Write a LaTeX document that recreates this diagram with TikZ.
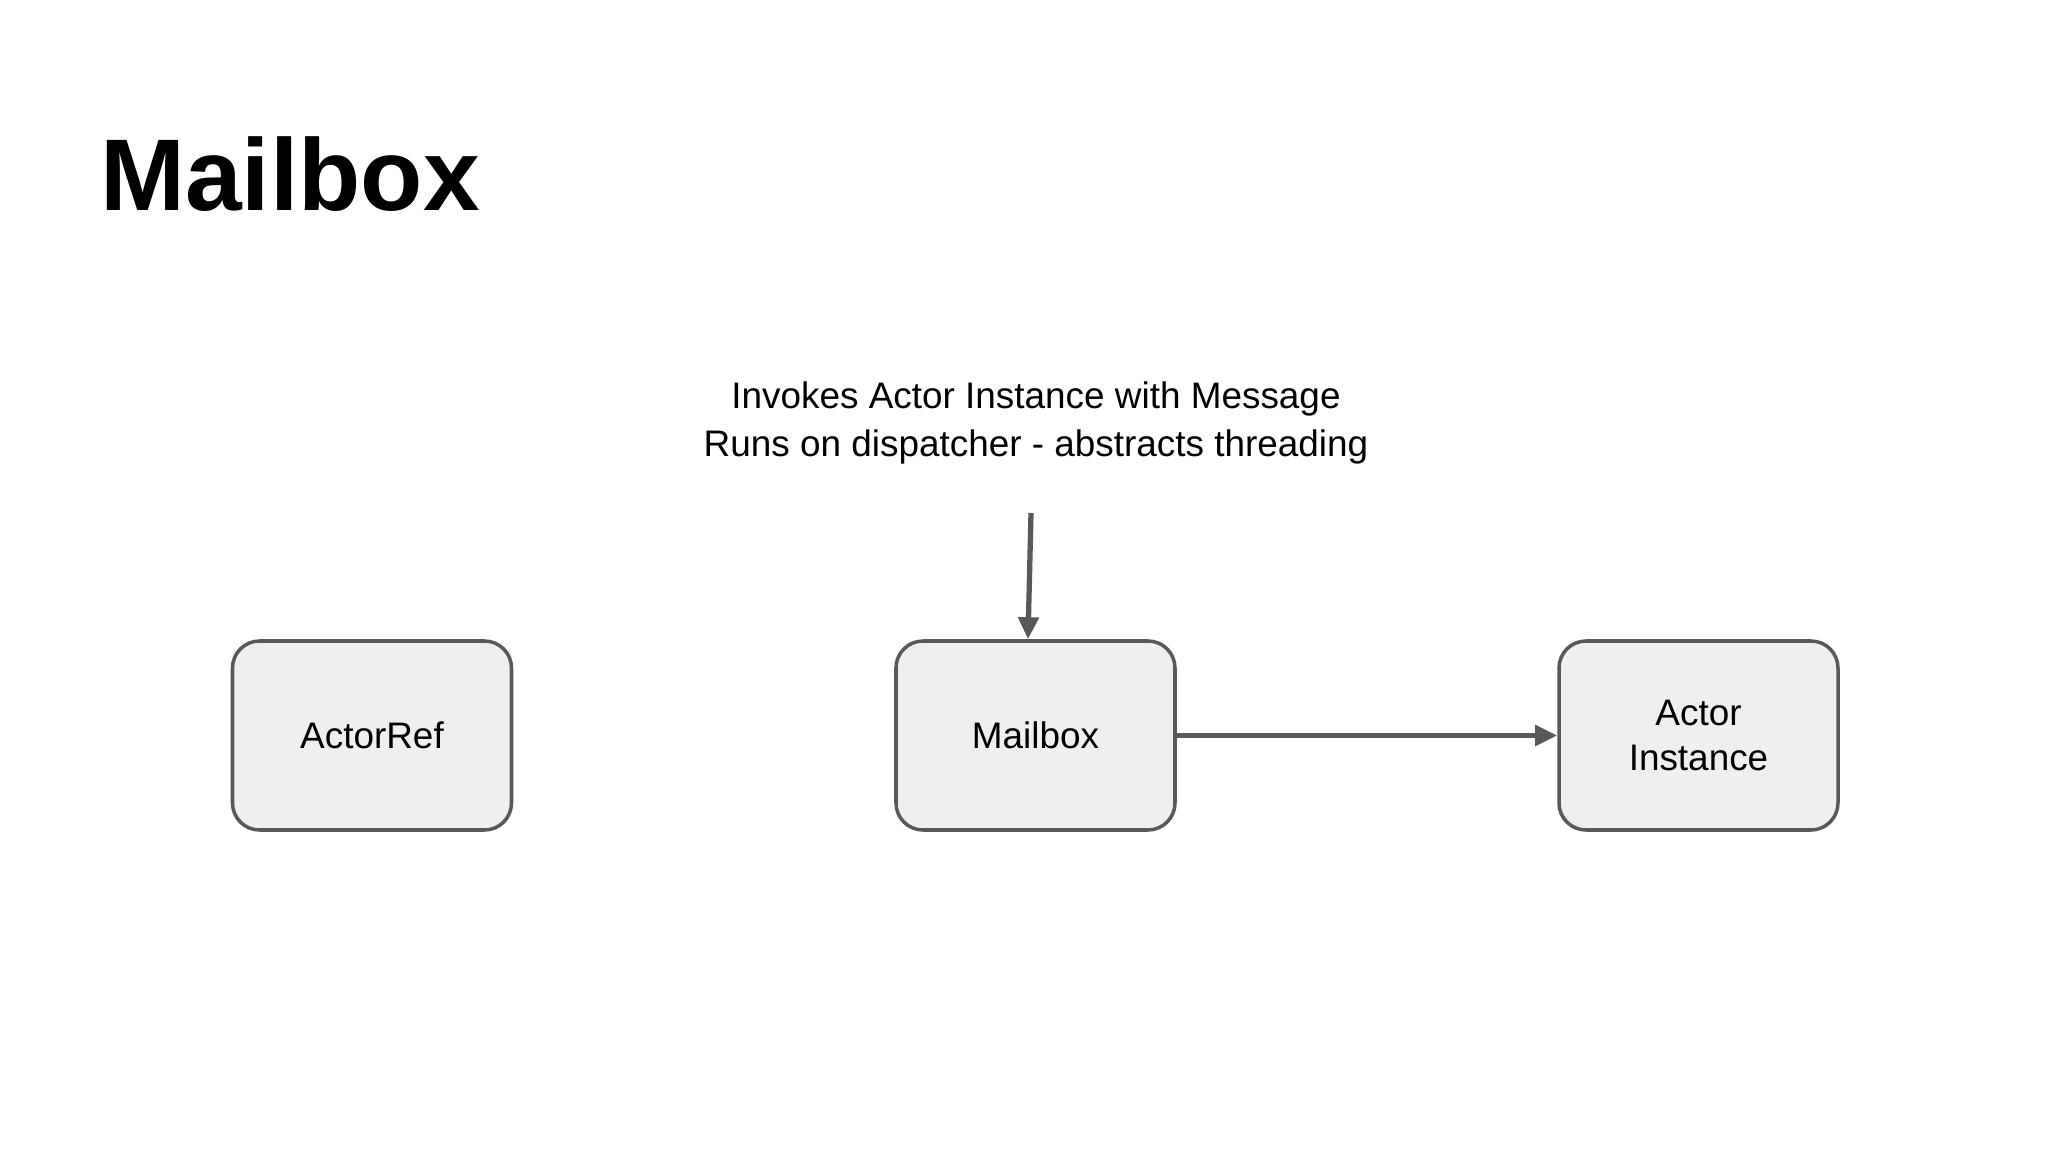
\documentclass[tikz,border=0pt]{standalone}
\usepackage{fontspec}
\setmainfont{Liberation Sans}
\usetikzlibrary{arrows.meta}
\definecolor{boxfill}{HTML}{EFEFEF}
\definecolor{edge}{HTML}{595959}
\tikzset{
  box/.style = {draw=edge, fill=boxfill, line width=1pt, rounded corners=0.27cm,
    minimum width=2.79cm, minimum height=1.89cm, align=center,
    font=\fontsize{10.5pt}{13pt}\selectfont},
  link/.style = {draw=edge, line width=1.5pt, -{Triangle[length=0.22cm,width=0.2cm]}}
}
\begin{document}
\begin{tikzpicture}

\useasboundingbox (0,0) rectangle (20.48,-11.52);

\node[anchor=base west, font=\fontsize{29pt}{34pt}\selectfont\bfseries] (title) at (0.88,-2.11) {Mailbox};

\node[box] (ref) at (3.72,-7.355) {ActorRef};
\node[box] (mbox) at (10.355,-7.355) {Mailbox};
\node[box] (inst) at (16.985,-7.355) {Actor\\Instance};

\node[align=center, font=\fontsize{10.5pt}{13.4pt}\selectfont] (note) at (10.36,-4.23)
  {Invokes Actor Instance with Message\\Runs on dispatcher - abstracts threading};
\coordinate (top) at (10.31,-5.13);

\draw[link] (top) -- (mbox.north west -| 10.28,0);
\draw[link] (mbox) -- (inst);

\end{tikzpicture}
\end{document}
